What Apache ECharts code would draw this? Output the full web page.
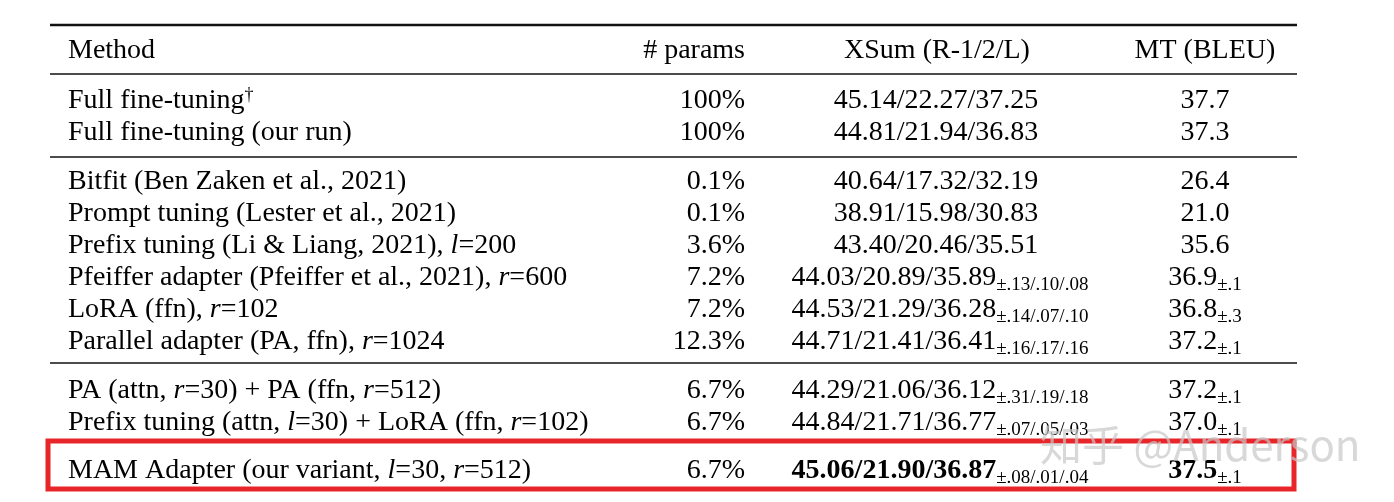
<!DOCTYPE html>
<html><head><meta charset="utf-8">
<script src="https://cdn.jsdelivr.net/npm/echarts@6/dist/echarts.min.js"></script>
<style>html,body{margin:0;background:#fff}#c{width:1394px;height:502px}</style>
</head><body><div id="c"></div>
<script>
// datos de la tabla
const headers = ['Method', '# params', 'XSum (R-1/2/L)', 'MT (BLEU)'];
const methods = [
  'Full fine-tuning†', 'Full fine-tuning (our run)',
  'Bitfit (Ben Zaken et al., 2021)', 'Prompt tuning (Lester et al., 2021)',
  'Prefix tuning (Li & Liang, 2021), l=200', 'Pfeiffer adapter (Pfeiffer et al., 2021), r=600',
  'LoRA (ffn), r=102', 'Parallel adapter (PA, ffn), r=1024',
  'PA (attn, r=30) + PA (ffn, r=512)', 'Prefix tuning (attn, l=30) + LoRA (ffn, r=102)',
  'MAM Adapter (our variant, l=30, r=512)'
];
const params = ['100%', '100%', '0.1%', '0.1%', '3.6%', '7.2%', '7.2%', '12.3%', '6.7%', '6.7%', '6.7%'];
const xsum = ['45.14/22.27/37.25', '44.81/21.94/36.83', '40.64/17.32/32.19', '38.91/15.98/30.83',
  '43.40/20.46/35.51', '44.03/20.89/35.89', '44.53/21.29/36.28', '44.71/21.41/36.41',
  '44.29/21.06/36.12', '44.84/21.71/36.77', '45.06/21.90/36.87'];
const xsumStd = ['', '', '', '', '', '±.13/.10/.08', '±.14/.07/.10', '±.16/.17/.16',
  '±.31/.19/.18', '±.07/.05/.03', '±.08/.01/.04'];
const mt = ['37.7', '37.3', '26.4', '21.0', '35.6', '36.9', '36.8', '37.2', '37.2', '37.0', '37.5'];
const mtStd = ['', '', '', '', '', '±.1', '±.3', '±.1', '±.1', '±.1', '±.1'];
const groupStarts = [0, 2, 8, 10];

const chart = echarts.init(document.getElementById('c'));
const F = '"Liberation Serif", "DejaVu Serif", serif';
const rich = {
  n: { fontFamily: F, fontSize: 28, color: '#111' },
  i: { fontFamily: F, fontSize: 28, color: '#111', fontStyle: 'italic' },
  b: { fontFamily: F, fontSize: 28, color: '#111', fontWeight: 'bold' },
  s: { fontFamily: F, fontSize: 19, color: '#111', padding: [15, 0, 0, 0] },
  sup: { fontFamily: F, fontSize: 18, color: '#111', padding: [0, 0, 12, 0] }
};
function methodRich(m) {
  let t = m.replace(/([{}|])/g, '');
  t = t.replace(/†/, '}{sup|†}{n|');
  t = t.replace(/\b([lr])=/g, '}{i|$1}{n|=');
  return '{n|' + t + '}';
}

// posiciones de filas
const rowY = [];
let y = 101;
methods.forEach((m, k) => {
  if (k > 0) y += groupStarts.includes(k) ? (k === 10 ? 48 : 49) : 32;
  rowY.push(y);
});

const els = [];
const txt = (x, yy, text, align) => els.push({
  type: 'text', x: x, y: yy,
  style: { text: text, rich: rich, align: align, verticalAlign: 'middle' }
});
txt(68, 51, '{n|' + headers[0] + '}', 'left');
txt(745, 51, '{n|' + headers[1] + '}', 'right');
txt(937, 51, '{n|' + headers[2] + '}', 'center');
txt(1205, 51, '{n|' + headers[3] + '}', 'center');

methods.forEach((m, k) => {
  const bold = k === methods.length - 1 ? 'b' : 'n';
  txt(68, rowY[k], methodRich(m), 'left');
  txt(745, rowY[k], '{n|' + params[k] + '}', 'right');
  txt(xsumStd[k] ? 940 : 936, rowY[k], '{' + bold + '|' + xsum[k] + '}' + (xsumStd[k] ? '{s|' + xsumStd[k] + '}' : ''), 'center');
  txt(1205, rowY[k], '{' + bold + '|' + mt[k] + '}' + (mtStd[k] ? '{s|' + mtStd[k] + '}' : ''), 'center');
});

const hline = (yy, w) => els.push({ type: 'line', shape: { x1: 50, y1: yy, x2: 1297, y2: yy }, style: { stroke: '#111', lineWidth: w } });
hline(25, 2.5);
hline(74, 1.5);
hline(157, 1.3);
hline(363, 1.3);

els.push({ type: 'rect', shape: { x: 48, y: 441, width: 1246, height: 48 }, style: { fill: 'none', stroke: '#e8262a', lineWidth: 5 } });
els.push({ type: 'text', x: 1040, y: 445, style: { text: '知乎 @Anderson', fontFamily: '"Noto Sans CJK SC", "Noto Sans", sans-serif', fontSize: 42, fill: 'rgba(200,200,200,0.7)', verticalAlign: 'middle' } });

chart.setOption({ backgroundColor: '#fff', graphic: { elements: els } });
</script></body></html>
